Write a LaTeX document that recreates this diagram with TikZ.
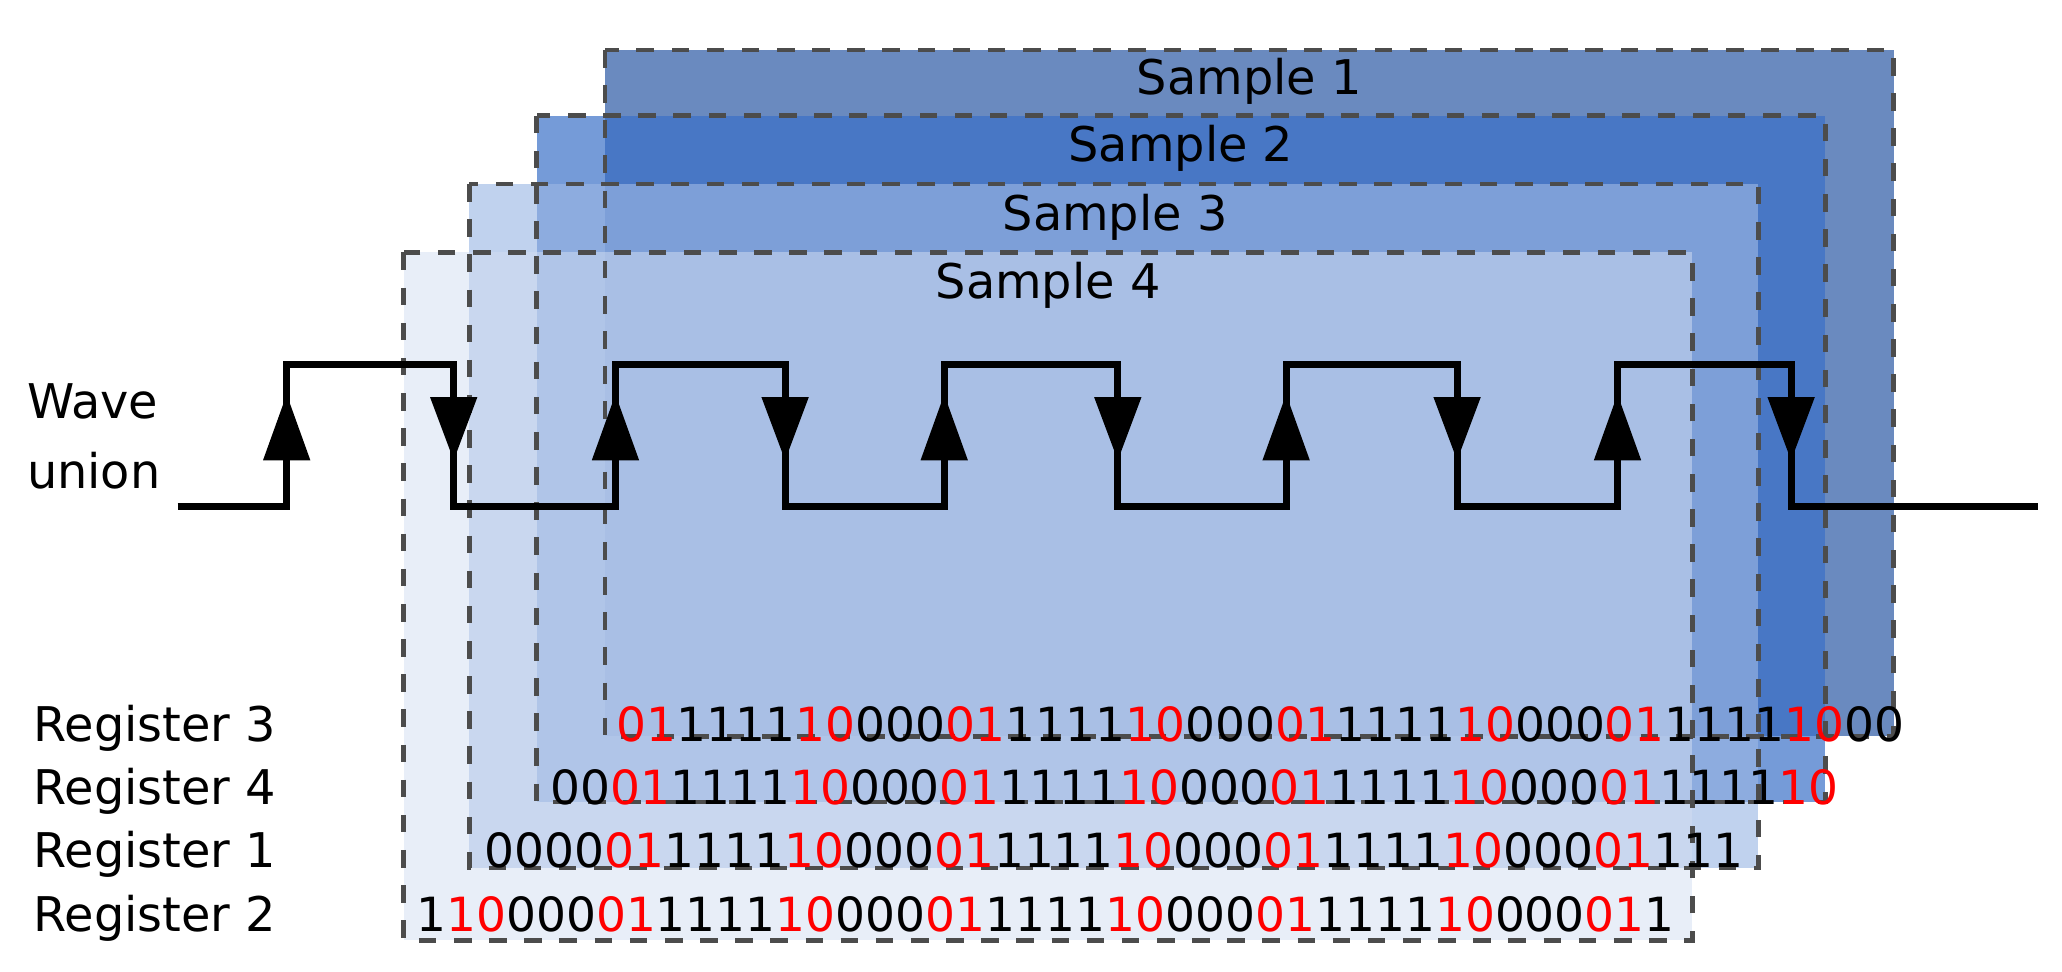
\documentclass[tikz,border=0pt]{standalone}
\usepackage{fontspec}
\setmainfont{DejaVu Sans}
\begin{document}
\newcommand\rd[1]{\textcolor{red}{#1}}
\begin{tikzpicture}[x=1.315cm,y=1.315cm,
  smp/.style={draw=black!70,dash pattern=on 5pt off 5pt,line width=1.3pt},
  lbl/.style={font=\fontsize{13.6}{16}\selectfont,inner sep=0},
  bits/.style={font=\fontsize{13.4}{16}\selectfont,inner sep=0,anchor=base west},
  wave/.style={line width=2pt,line join=miter},
  tri/.style={fill=black}]
\useasboundingbox (0,-7.384) rectangle (15.68,0);
\definecolor{cA}{RGB}{106,138,191}
\definecolor{cB}{RGB}{58,112,200}
\definecolor{cC}{RGB}{156,183,228}
\definecolor{cD}{RGB}{210,222,242}
\definecolor{red}{RGB}{255,0,0}
\fill[cA] (4.60,-0.38) rectangle (14.40,-5.60);
\fill[cB,opacity=0.7] (4.08,-0.88) rectangle (13.88,-6.10);
\fill[cC,opacity=0.63] (3.57,-1.40) rectangle (13.37,-6.60);
\fill[cD,opacity=0.52] (3.07,-1.92) rectangle (12.87,-7.15);
\draw[smp] (4.60,-0.38) rectangle (14.40,-5.60);
\draw[smp] (4.08,-0.88) rectangle (13.88,-6.10);
\draw[smp] (3.57,-1.40) rectangle (13.37,-6.60);
\draw[smp] (3.07,-1.92) rectangle (12.87,-7.15);
\node[lbl] (s1) at (9.50,-0.62) {Sample 1};
\node[lbl] (s2) at (8.98,-1.13) {Sample 2};
\node[lbl] (s3) at (8.48,-1.65) {Sample 3};
\node[lbl] (s4) at (7.97,-2.17) {Sample 4};
\node[lbl,align=left,anchor=west,font=\fontsize{13.6}{20}\selectfont] (wl) at (0.20,-3.32) {Wave\\union};
\draw[wave] (1.35,-3.85) -- (2.18,-3.85) -- (2.18,-2.77) -- (3.45,-2.77) -- (3.45,-3.85)
 -- (4.68,-3.85) -- (4.68,-2.77) -- (5.97,-2.77) -- (5.97,-3.85)
 -- (7.18,-3.85) -- (7.18,-2.77) -- (8.50,-2.77) -- (8.50,-3.85)
 -- (9.78,-3.85) -- (9.78,-2.77) -- (11.08,-2.77) -- (11.08,-3.85)
 -- (12.30,-3.85) -- (12.30,-2.77) -- (13.62,-2.77) -- (13.62,-3.85) -- (15.50,-3.85);
\foreach \x in {2.18,4.68,7.18,9.78,12.30}
  \fill[tri] (\x-0.18,-3.50) -- (\x+0.18,-3.50) -- (\x,-3.00) -- cycle;
\foreach \x in {3.45,5.97,8.50,11.08,13.62}
  \fill[tri] (\x-0.18,-3.02) -- (\x+0.18,-3.02) -- (\x,-3.50) -- cycle;
\node[lbl,anchor=base west] (r3) at (0.25,-5.64) {Register 3};
\node[lbl,anchor=base west] (r4) at (0.25,-6.12) {Register 4};
\node[lbl,anchor=base west] (r1) at (0.25,-6.60) {Register 1};
\node[lbl,anchor=base west] (r2) at (0.25,-7.08) {Register 2};
\node[bits] (b3) at (4.68,-5.64) {\rd{01}1111\rd{10}000\rd{01}1111\rd{10}000\rd{01}1111\rd{10}000\rd{01}1111\rd{10}00};
\node[bits] (b4) at (4.18,-6.12) {00\rd{01}1111\rd{10}000\rd{01}1111\rd{10}000\rd{01}1111\rd{10}000\rd{01}1111\rd{10}};
\node[bits] (b1) at (3.68,-6.60) {0000\rd{01}1111\rd{10}000\rd{01}1111\rd{10}000\rd{01}1111\rd{10}000\rd{01}111};
\node[bits] (b2) at (3.16,-7.08) {1\rd{10}000\rd{01}1111\rd{10}000\rd{01}1111\rd{10}000\rd{01}1111\rd{10}000\rd{01}1};
\end{tikzpicture}
\end{document}
